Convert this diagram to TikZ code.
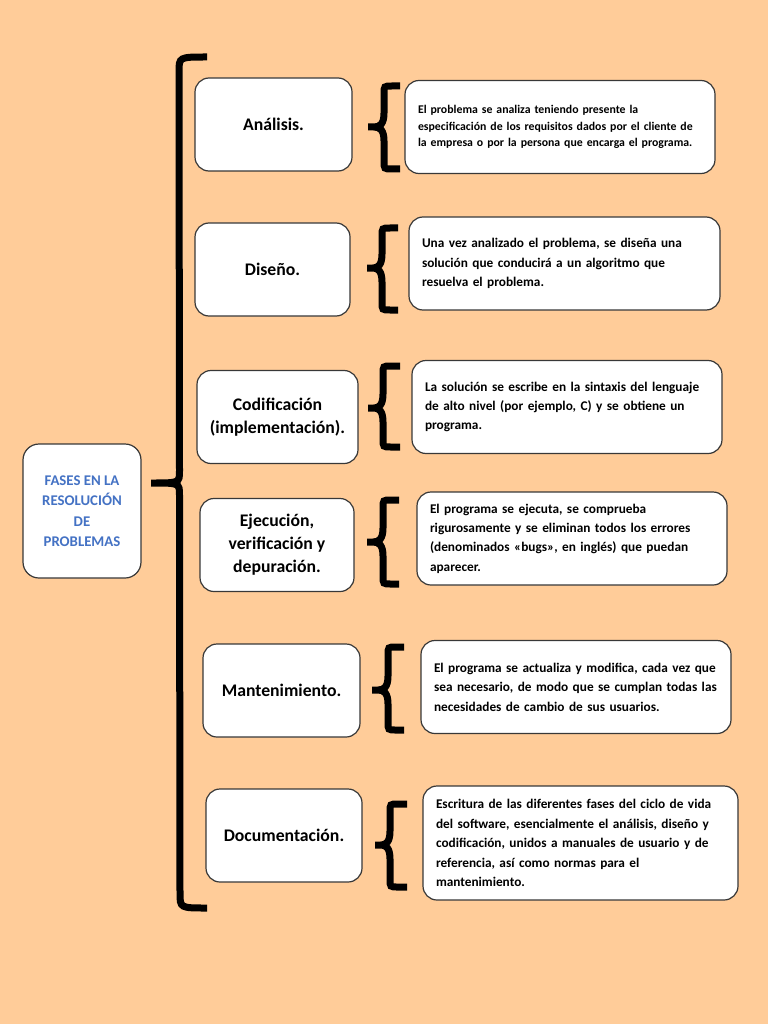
\documentclass[tikz,border=0pt]{standalone}
\usepackage{fontspec}
\setmainfont{Carlito}
\definecolor{fondo}{HTML}{FFCC99}
\definecolor{azul}{HTML}{4472C4}
\definecolor{borde}{HTML}{383838}

% llave: punta x, barra x, extremo x, arriba y, abajo y, punta y
\newcommand{\llave}[6]{%
    \draw[llave] (#3,#4) -- (#2+8,#4) .. controls (#2,#4) .. (#2,#4+8) -- (#2,#6-14)
        .. controls (#2,#6-3) and (#2-4,#6) .. (#1+6,#6) -- (#1,#6) -- (#1+6,#6)
        .. controls (#2-4,#6) and (#2,#6+3) .. (#2,#6+14)
        -- (#2,#5-8) .. controls (#2,#5) .. (#2+8,#5) -- (#3,#5);
}

\begin{document}
\begin{tikzpicture}[x=1pt,y=-1pt,
        caja/.style={draw=borde,line width=1.2pt,fill=white,rounded corners=14pt,inner sep=0pt},
        raiz/.style={caja,rounded corners=16pt,minimum width=118pt,minimum height=134pt,align=center,
            text=azul,font=\bfseries\fontsize{14.8}{20.5}\selectfont},
        fase/.style={caja,minimum height=93pt,align=center,font=\bfseries\fontsize{17.7}{23}\selectfont},
        desc/.style={caja,inner xsep=13pt,minimum height=93pt,align=left,font=\bfseries\fontsize{13.3}{19.4}\selectfont},
        llave/.style={line width=7pt,black},
        llavemayor/.style={line width=7pt,black}]

    \fill[fondo] (0,0) rectangle (768,1024);
    \useasboundingbox (0,0) rectangle (768,1024);

    \node[raiz] (raiz) at (82,511) {FASES EN LA\\RESOLUCIÓN\\DE\\PROBLEMAS};

    % fases
    \node[fase,minimum width=157pt] (f1) at (273.5,124.5) {Análisis.};
    \node[fase,minimum width=155pt] (f2) at (272.5,269.5) {Diseño.};
    \node[fase,minimum width=161pt] (f3) at (277.5,417) {Codificación\\(implementación).};
    \node[fase,minimum width=154pt] (f4) at (277,545) {Ejecución,\\verificación y\\depuración.};
    \node[fase,minimum width=157pt] (f5) at (281.5,690.5) {Mantenimiento.};
    \node[fase,minimum width=156pt] (f6) at (284,835.5) {Documentación.};

    % descripciones
    \node[desc,text width=284pt,font=\bfseries\fontsize{11.8}{16.8}\selectfont] (d1) at (560,127)
        {El problema se analiza teniendo presente la\\especificación de los requisitos dados por el cliente de\\la empresa o por la persona que encarga el programa.};
    \node[desc,text width=285pt] (d2) at (564.5,263.5)
        {Una vez analizado el problema, se diseña una\\solución que conducirá a un algoritmo que\\resuelva el problema.};
    \node[desc,text width=284pt] (d3) at (567,407)
        {La solución se escribe en la sintaxis del lenguaje\\de alto nivel (por ejemplo, C) y se obtiene un\\programa.};
    \node[desc,text width=284pt] (d4) at (572,538.5)
        {El programa se ejecuta, se comprueba\\rigurosamente y se eliminan todos los errores\\(denominados «bugs», en inglés) que puedan\\aparecer.};
    \node[desc,text width=284pt] (d5) at (576,687)
        {El programa se actualiza y modifica, cada vez que\\sea necesario, de modo que se cumplan todas las\\necesidades de cambio de sus usuarios.};
    \node[desc,text width=289pt,minimum height=114pt] (d6) at (580.5,843)
        {Escritura de las diferentes fases del ciclo de vida\\del software, esencialmente el análisis, diseño y\\codificación, unidos a manuales de usuario y de\\referencia, así como normas para el\\mantenimiento.};

    % llave mayor
    \draw[llavemayor] (207,57) .. controls (179,57) .. (179,72) -- (179.5,471)
        .. controls (179.5,483) .. (151,483) .. controls (179.5,483) .. (179.5,495)
        -- (180,893) .. controls (180,908) .. (207,908);

    % llaves menores
    \llave{368}{384}{400}{86}{169}{127}
    \llave{367}{382}{398}{228}{310}{268}
    \llave{368}{383}{400}{366}{447}{408}
    \llave{367}{383}{399}{500}{584}{542}
    \llave{372}{388}{404}{647}{730}{690}
    \llave{375}{390}{407}{804}{887}{845}
\end{tikzpicture}
\end{document}
